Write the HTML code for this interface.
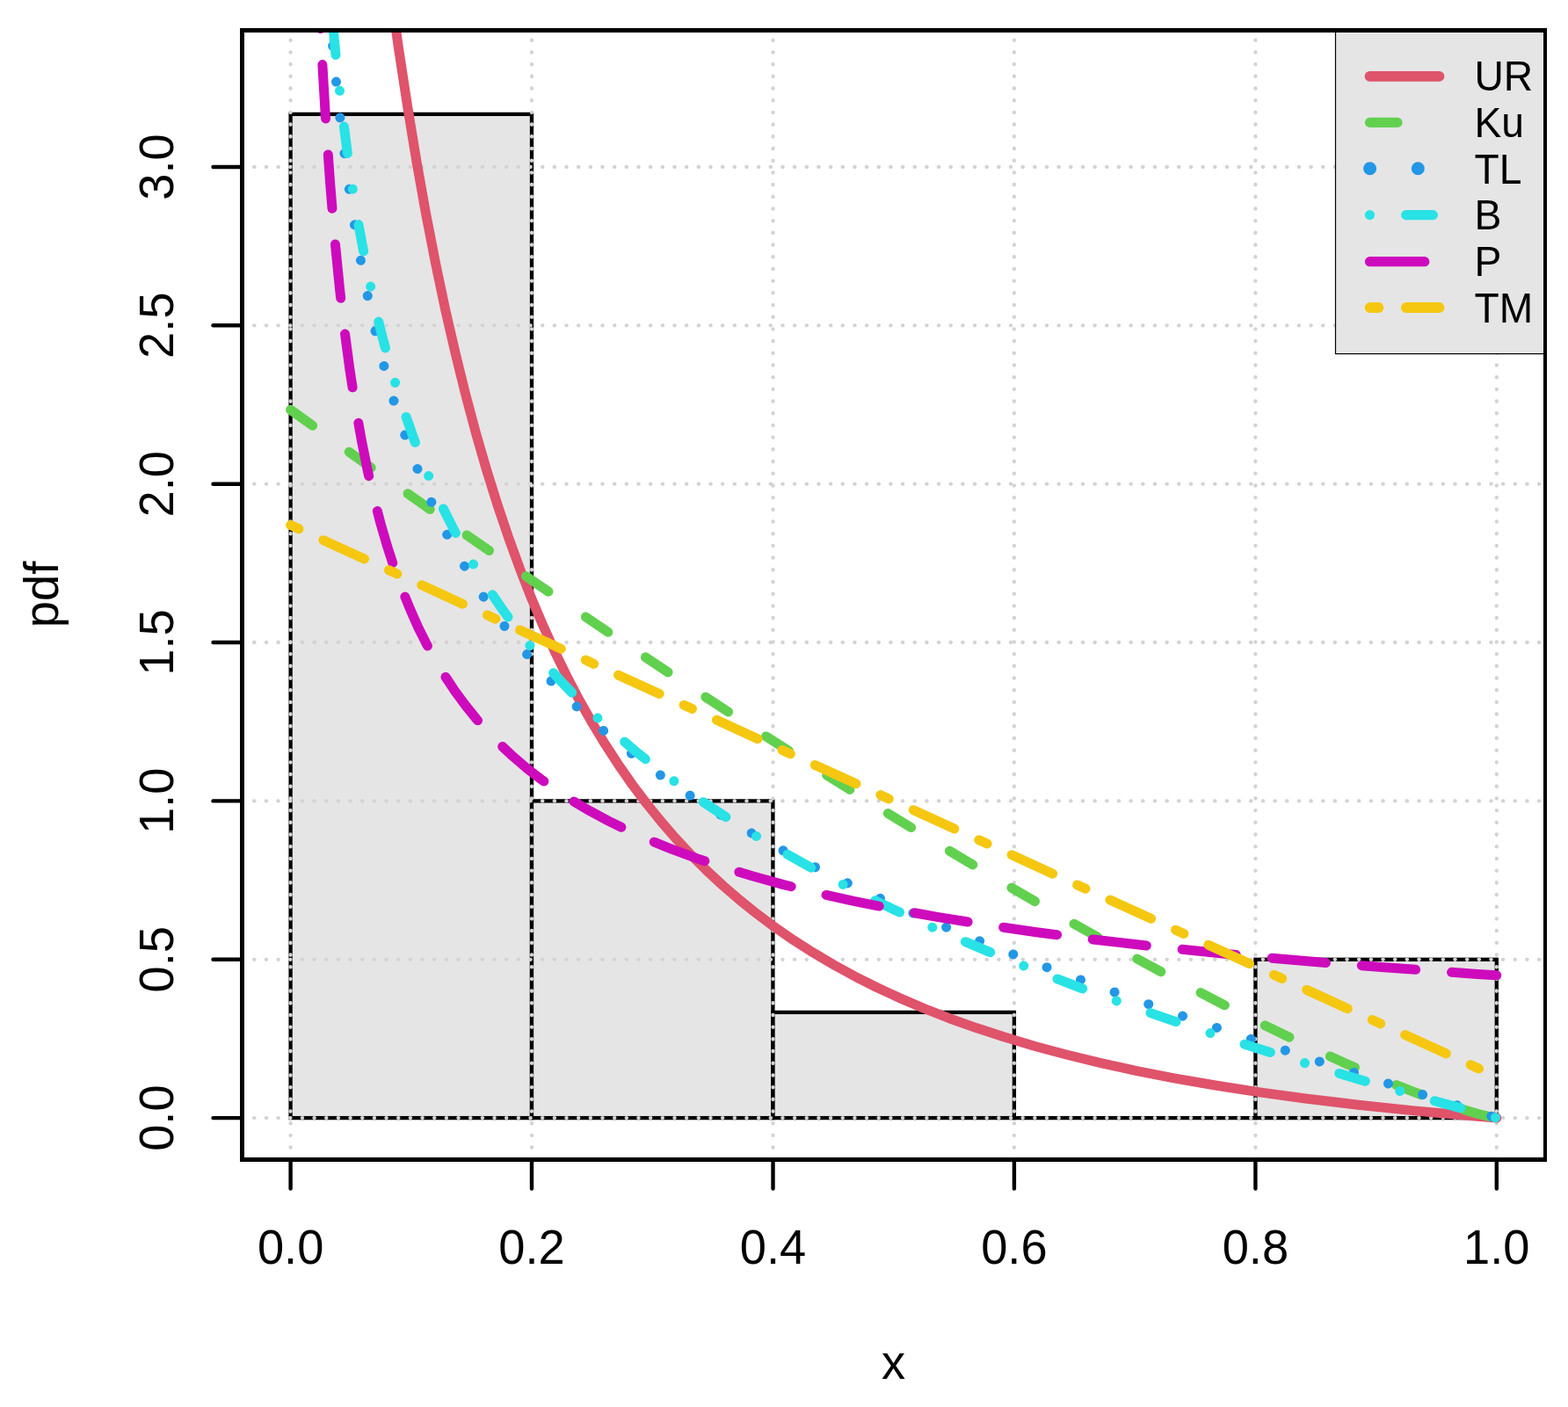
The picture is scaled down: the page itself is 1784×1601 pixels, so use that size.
<!DOCTYPE html>
<html><head><meta charset="utf-8"><title>pdf</title>
<style>html,body{margin:0;padding:0;background:#fff;overflow:hidden}svg{display:block}text{font-family:"Liberation Sans",sans-serif;fill:#000}</style></head>
<body>
<svg width="1784" height="1601" viewBox="0 0 1784 1601">
<rect x="0" y="0" width="1784" height="1601" fill="#fff"/>
<defs><clipPath id="c"><rect x="275.5" y="34.5" width="1482.5" height="1285.0"/></clipPath></defs>
<g fill="#e5e5e5" stroke="#000" stroke-width="4.3" stroke-linejoin="miter" stroke-linecap="square">
<rect x="330.6" y="129.9" width="274.4" height="1142.2"/>
<rect x="605.0" y="911.4" width="274.4" height="360.7"/>
<rect x="879.5" y="1151.9" width="274.4" height="120.2"/>
<path d="M1153.9,1272.1H1428.4"/>
<rect x="1428.4" y="1091.8" width="274.4" height="180.3"/>
</g>
<g stroke="#d3d3d3" stroke-width="4.3" stroke-linecap="round" fill="none">
<g stroke-dasharray="0.30 13.394">
<path d="M330.6,1319.5V34.5"/>
<path d="M605.0,1319.5V34.5"/>
<path d="M879.5,1319.5V34.5"/>
<path d="M1153.9,1319.5V34.5"/>
<path d="M1428.4,1319.5V34.5"/>
<path d="M1702.8,1319.5V34.5"/>
</g><g stroke-dasharray="0.30 13.362">
<path d="M275.5,1272.1H1758.0"/>
<path d="M275.5,1091.8H1758.0"/>
<path d="M275.5,911.4H1758.0"/>
<path d="M275.5,731.0H1758.0"/>
<path d="M275.5,550.7H1758.0"/>
<path d="M275.5,370.3H1758.0"/>
<path d="M275.5,190.0H1758.0"/>
</g></g>
<g clip-path="url(#c)" fill="none" stroke-linecap="round" stroke-linejoin="round" stroke-width="11.0">
<path d="M400.9,-396.6L411.4,-290.7L421.8,-193.3L432.3,-104.2L442.7,-22.6L453.1,52.2L463.6,120.9L474.0,184.0L484.4,242.2L495.7,300.3L507.0,353.8L518.4,403.1L529.7,448.7L541.8,494.1L554.0,536.1L566.2,575.0L578.4,611.1L591.4,646.9L604.4,680.2L617.5,711.1L631.4,741.8L645.3,770.3L659.2,796.8L674.0,823.0L688.8,847.3L703.6,870.1L719.2,892.5L734.9,913.4L751.4,933.9L767.9,953.0L785.3,971.8L803.6,990.1L821.9,1007.1L841.0,1023.6L861.0,1039.7L881.9,1055.3L902.7,1069.7L924.5,1083.6L948.0,1097.5L972.3,1110.8L997.5,1123.5L1023.6,1135.6L1051.4,1147.5L1080.1,1158.7L1110.6,1169.6L1142.8,1180.1L1176.7,1190.2L1213.2,1200.0L1251.5,1209.3L1292.3,1218.3L1335.8,1226.8L1382.8,1235.0L1433.2,1242.9L1487.1,1250.2L1545.4,1257.2L1608.9,1263.9L1677.6,1270.1L1702.8,1272.1" stroke="#DF536B"/>
<path d="M330.6,466.3L427.0,535.6L520.1,601.3L610.5,664.0L697.5,723.2L781.9,779.5L862.7,832.3L940.1,881.7L1014.9,928.4L1086.2,971.8L1154.1,1012.1L1218.4,1049.2L1279.3,1083.2L1337.6,1114.7L1391.5,1142.9L1441.9,1168.2L1488.9,1190.8L1532.4,1210.7L1571.5,1227.6L1606.3,1241.6L1636.7,1253.0L1661.9,1261.6L1681.9,1267.5L1696.7,1271.1L1702.8,1272.1" stroke="#61D04F" stroke-dasharray="30.77 51.28" stroke-dashoffset="0.00"/>
<path d="M353.3,-397.6L357.1,-293.2L361.6,-194.7L366.3,-110.8L371.0,-39.9L376.4,28.0L381.6,84.9L387.5,139.6L394.1,192.3L400.9,240.2L407.9,282.7L414.9,320.4L422.7,358.1L430.5,391.8L439.2,425.4L447.9,455.7L457.5,485.7L467.0,513.0L477.5,540.1L487.9,564.9L499.2,589.5L511.4,613.7L523.6,636.0L536.6,658.0L550.5,679.7L565.3,701.0L580.1,720.7L595.7,740.1L612.3,759.2L629.7,778.0L647.9,796.3L667.9,815.1L688.8,833.4L710.5,851.3L734.0,869.4L759.2,887.6L786.2,905.9L814.9,924.2L845.3,942.4L877.5,960.6L912.3,979.1L949.7,997.9L989.7,1017.0L1033.2,1036.6L1080.1,1056.7L1131.4,1077.6L1187.1,1099.2L1248.8,1122.1L1317.5,1146.5L1395.8,1173.3L1489.7,1204.2L1616.7,1244.9L1702.8,1272.1" stroke="#2297E6" stroke-dasharray="0.01 41.03" stroke-dashoffset="0.83"/>
<path d="M353.7,-399.2L357.5,-299.4L362.1,-204.7L366.8,-123.7L371.6,-54.9L377.1,11.2L382.4,66.9L388.4,120.6L395.1,172.6L401.8,218.6L408.8,260.4L416.6,302.0L424.4,339.1L433.1,375.9L441.8,408.9L451.4,441.7L461.0,471.3L471.4,500.8L481.8,527.6L493.1,554.3L504.4,578.8L516.6,603.1L529.7,627.1L543.6,650.7L557.5,672.6L572.3,694.3L587.9,715.6L604.4,736.5L621.8,757.0L640.1,777.2L659.2,796.9L679.2,816.3L701.0,836.0L723.6,855.2L747.9,874.6L773.2,893.5L800.1,912.6L828.8,931.6L859.2,950.7L891.4,969.7L925.3,988.7L961.0,1007.5L999.3,1026.6L1040.1,1045.9L1083.6,1065.4L1129.7,1084.9L1178.4,1104.5L1230.6,1124.5L1285.4,1144.4L1344.5,1164.9L1407.1,1185.5L1474.1,1206.5L1545.4,1227.9L1622.8,1250.1L1702.8,1272.1" stroke="#28E2E5" stroke-dasharray="0.01 41.02 30.77 41.02" stroke-dashoffset="60.39"/>
<path d="M350.6,-386.9L354.0,-250.7L358.0,-125.6L362.1,-21.9L366.3,63.8L371.0,143.8L375.7,209.5L380.8,271.3L386.6,329.6L392.1,376.8L398.1,421.7L404.4,462.2L411.4,501.4L418.3,535.6L425.3,565.9L433.1,596.0L441.0,622.9L448.8,646.9L457.5,670.8L466.2,692.3L475.7,713.7L485.3,732.9L495.7,752.0L506.2,769.2L517.5,786.2L529.7,802.7L541.8,817.8L554.9,832.6L568.8,846.9L583.6,860.7L599.2,874.1L615.8,886.9L633.1,899.3L651.4,911.1L671.4,922.9L692.3,934.1L714.9,945.2L739.2,956.1L765.3,966.7L793.2,976.9L823.6,987.1L855.8,996.8L891.4,1006.6L929.7,1016.1L971.4,1025.4L1016.7,1034.4L1066.2,1043.4L1120.1,1052.1L1179.3,1060.7L1243.6,1069.0L1314.9,1077.2L1393.2,1085.3L1479.3,1093.1L1575.0,1100.8L1681.1,1108.4L1702.8,1109.8" stroke="#CD0BBC" stroke-dasharray="61.51 41.01" stroke-dashoffset="51.81"/>
<path d="M330.6,597.6L1702.8,1225.2" stroke="#F5C710" stroke-dasharray="10.25 30.76 51.26 30.76" stroke-dashoffset="0.00"/>
</g>
<rect x="1519.5" y="34.5" width="238.5" height="368.1" fill="#e5e5e5" stroke="#000" stroke-width="1.2"/>
<g fill="none" stroke-linecap="round">
<path d="M1558.5,86.9H1637.5" stroke="#DF536B" stroke-width="11.8"/>
<path d="M1558.5,139.4H1637.5" stroke="#61D04F" stroke-width="11.2" stroke-dasharray="31.5 200"/>
<path d="M1558.6,191.8H1637.5" stroke="#2297E6" stroke-width="15.0" stroke-dasharray="0.01 54.7"/>
<path d="M1558.5,244.6H1630.5" stroke="#28E2E5" stroke-width="11.2" stroke-dasharray="0.01 41.1 30.8 200"/>
<path d="M1558.5,297.7H1637.5" stroke="#CD0BBC" stroke-width="11.2" stroke-dasharray="62.3 200"/>
<path d="M1558.7,350.0H1637.5" stroke="#F5C710" stroke-width="11.8" stroke-dasharray="9.7 31.4 51.4 30.8"/>
</g>
<g font-size="48.5px">
<text transform="translate(1677.5,103.2) scale(0.952,1)">UR</text>
<text transform="translate(1677.5,156.1) scale(0.952,1)">Ku</text>
<text transform="translate(1677.5,208.5) scale(0.952,1)">TL</text>
<text transform="translate(1677.5,261.3) scale(0.952,1)">B</text>
<text transform="translate(1677.5,314.4) scale(0.952,1)">P</text>
<text transform="translate(1677.5,366.7) scale(0.952,1)">TM</text>
</g>
<path fill="#000" d="M273,32H1760V1322H273Z M278,37V1317H1756V37Z"/>
<g stroke="#000" stroke-width="4.4" fill="none" stroke-linecap="round">
<path d="M330.6,1319.5V1352.5"/>
<path d="M605.0,1319.5V1352.5"/>
<path d="M879.5,1319.5V1352.5"/>
<path d="M1153.9,1319.5V1352.5"/>
<path d="M1428.4,1319.5V1352.5"/>
<path d="M1702.8,1319.5V1352.5"/>
<path d="M275.5,1272.1H242.5"/>
<path d="M275.5,1091.8H242.5"/>
<path d="M275.5,911.4H242.5"/>
<path d="M275.5,731.0H242.5"/>
<path d="M275.5,550.7H242.5"/>
<path d="M275.5,370.3H242.5"/>
<path d="M275.5,190.0H242.5"/>
</g>
<g font-size="56.4px" text-anchor="middle">
<text transform="translate(330.6,1438.0) scale(0.962,1)">0.0</text>
<text transform="translate(605.0,1438.0) scale(0.962,1)">0.2</text>
<text transform="translate(879.5,1438.0) scale(0.962,1)">0.4</text>
<text transform="translate(1153.9,1438.0) scale(0.962,1)">0.6</text>
<text transform="translate(1428.4,1438.0) scale(0.962,1)">0.8</text>
<text transform="translate(1702.8,1438.0) scale(0.962,1)">1.0</text>
<text transform="translate(197.3,1272.1) rotate(-90) scale(0.962,1)">0.0</text>
<text transform="translate(197.3,1091.8) rotate(-90) scale(0.962,1)">0.5</text>
<text transform="translate(197.3,911.4) rotate(-90) scale(0.962,1)">1.0</text>
<text transform="translate(197.3,731.0) rotate(-90) scale(0.962,1)">1.5</text>
<text transform="translate(197.3,550.7) rotate(-90) scale(0.962,1)">2.0</text>
<text transform="translate(197.3,370.3) rotate(-90) scale(0.962,1)">2.5</text>
<text transform="translate(197.3,190.0) rotate(-90) scale(0.962,1)">3.0</text>
<text transform="translate(1016.6,1569.0) scale(0.962,1)">x</text>
<text transform="translate(66.0,676.5) rotate(-90) scale(0.962,1)">pdf</text>
</g>
</svg>
</body></html>
